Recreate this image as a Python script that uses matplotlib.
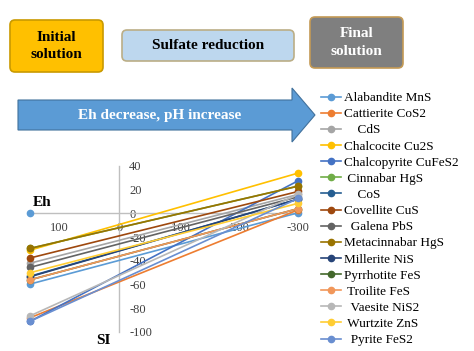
import matplotlib
matplotlib.use('Agg')
from matplotlib import pyplot as plt
from matplotlib.patches import FancyBboxPatch, Polygon

plt.rcParams['font.family'] = ['Liberation Serif', 'DejaVu Serif']
plt.rcParams['axes.unicode_minus'] = False

# Eh values of the two end states (initial -> final)
eh = [150, -300]

minerals = ['Alabandite MnS', 'Cattierite CoS2', '    CdS', 'Chalcocite Cu2S',
            'Chalcopyrite CuFeS2', ' Cinnabar HgS', '    CoS', 'Covellite CuS',
            '  Galena PbS', 'Metacinnabar HgS', 'Millerite NiS', 'Pyrrhotite FeS',
            ' Troilite FeS', '  Vaesite NiS2', ' Wurtzite ZnS', '  Pyrite FeS2']
si_initial = [-59.6, -88, -42, -31, -91, -29.5, -53, -37.6,
              -45.5, -29.5, -53.4, -56, -56, -86.4, -50, -91]
si_final = [0.5, 3, 16, 34, 27.5, 23, 12, 18.5,
            14, 23, 12, 4, 4, 16, 8.5, 12.6]
colors = ['#5B9BD5', '#ED7D31', '#A5A5A5', '#FFC000', '#4472C4', '#70AD47',
          '#255E91', '#9E480E', '#636363', '#997300', '#264478', '#43682B',
          '#F1975A', '#B7B7B7', '#FFCD33', '#698ED0']

# stray point on the Eh axis
extra_x = [150]
extra_y = [0]

x_ticks = [100, 0, -100, -200, -300]
y_ticks = [40, 20, 0, -20, -40, -60, -80, -100]

W, H = 474, 351
fig = plt.figure(figsize=(W / 100, H / 100), dpi=100)

# overlay in pixel coordinates for the process diagram
over = fig.add_axes([0, 0, 1, 1])
over.set_xlim(0, W)
over.set_ylim(H, 0)
over.axis('off')

boxes = [
    (10, 20, 93, 52, '#FFC000', '#C99A00', 'Initial\nsolution', 'black'),
    (122, 30, 172, 31, '#BDD7EE', '#BBAE86', 'Sulfate reduction', 'black'),
    (310, 17, 93, 51, '#7F7F7F', '#C49A55', 'Final\nsolution', 'white'),
]
for bx, by, bw, bh, fc, ec, txt, tc in boxes:
    over.add_patch(FancyBboxPatch((bx + 5, by + 5), bw - 10, bh - 10,
                                  boxstyle='round,pad=5', fc=fc, ec=ec, lw=1.2))
    over.text(bx + bw / 2, by + bh / 2, txt, ha='center', va='center',
              fontsize=11, fontweight='bold', color=tc, linespacing=1.45)

arrow = [(18, 100), (292, 100), (292, 88), (315, 115), (292, 142),
         (292, 130), (18, 130)]
over.add_patch(Polygon(arrow, closed=True, fc='#5B9BD5', ec='#41719C', lw=0.8))
over.text(160, 115, 'Eh decrease, pH increase', ha='center', va='center',
          fontsize=11, fontweight='bold', color='white')

# the SI vs Eh chart
ax = fig.add_axes([30 / W, 19 / H, 268 / W, 166 / H])
ax.patch.set_alpha(0)
for name, y0, y1, c in zip(minerals, si_initial, si_final, colors):
    ax.plot(eh, [y0, y1], color=c, lw=1.2, marker='o', markersize=4.5,
            label=name, clip_on=False, zorder=3)
ax.plot(extra_x, extra_y, 'o', color=colors[0], markersize=4.5, clip_on=False, zorder=3)

ax.set_xlim(150, -300)
ax.set_ylim(-100, 40)
ax.set_xticks(x_ticks)
ax.set_yticks(y_ticks)

ax.spines['top'].set_visible(False)
ax.spines['left'].set_visible(False)
ax.spines['right'].set_position(('data', 0))
ax.spines['bottom'].set_position(('data', 0))
for s in ('right', 'bottom'):
    ax.spines[s].set_color('#BFBFBF')
    ax.spines[s].set_linewidth(1.0)
ax.yaxis.set_ticks_position('right')
ax.tick_params(axis='both', length=0, labelsize=9, colors='#404040')
ax.tick_params(axis='y', pad=7)
ax.tick_params(axis='x', pad=6)

fig.text(42 / W, 1 - 203 / H, 'Eh', ha='center', va='center',
         fontsize=11, fontweight='bold')
fig.text(103 / W, 1 - 340 / H, 'SI', ha='center', va='center',
         fontsize=11, fontweight='bold')

fig.legend(loc='upper left', bbox_to_anchor=(321 / W, 1 - 92 / H), frameon=False,
           fontsize=9.5, labelspacing=0.295, handlelength=1.55, handletextpad=0.2,
           borderpad=0, borderaxespad=0)

fig.savefig('out.png', dpi=100)
